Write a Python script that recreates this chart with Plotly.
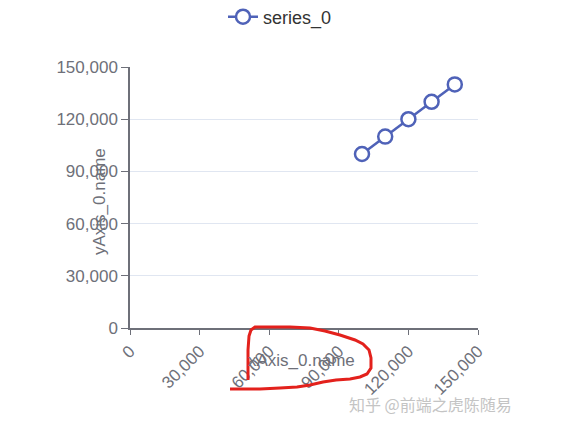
import plotly.graph_objects as go

# Data
series_name = "series_0"
x_values = [100000, 110000, 120000, 130000, 140000]
y_values = [100000, 110000, 120000, 130000, 140000]
tick_values = [0, 30000, 60000, 90000, 120000, 150000]
x_axis_name = "xAxis_0.name"
y_axis_name = "yAxis_0.name"
watermark = "知乎 @前端之虎陈随易"

W, H = 561, 427
OFF = 8  # page body margin
FW, FH = W - 2 * OFF, H - 2 * OFF
L, R, T, B = 130, 478, 67, 328  # plot area in page pixels


def px(x, y):
    return (x - L) / (R - L), (B - y) / (B - T)


AXIS_COLOR = "#6E7079"
LINE_COLOR = "#4f62b8"
FONT = "Liberation Sans, Arial, sans-serif"
FS = 17

fig = go.Figure()
fig.add_trace(go.Scatter(
    x=x_values, y=y_values, name=series_name, mode="lines+markers",
    line=dict(color=LINE_COLOR, width=2.5),
    marker=dict(symbol="circle", size=14, color="white",
                line=dict(color=LINE_COLOR, width=2.5)),
))

# red hand-drawn annotation stroke (page pixel points -> paper)
stroke_px = [(248, 380), (248, 350), (249, 336), (251, 330), (255, 327), (270, 327),
             (290, 327), (310, 328), (325, 331), (340, 335), (355, 340), (363, 344),
             (369, 350), (371, 358), (371, 368), (367, 374), (360, 377), (350, 379),
             (336, 380), (323, 382), (310, 385), (297, 387), (280, 388), (260, 389),
             (230, 389)]
pts = [px(a, b) for a, b in stroke_px]
path = "M " + " L ".join(f"{a:.4f},{b:.4f}" for a, b in pts)
fig.add_shape(type="path", path=path, xref="paper", yref="paper",
              line=dict(color="#e3211c", width=3), layer="above")

xn = px(301, 360)
yn = px(100, 202)
wm = px(430, 404)
fig.add_annotation(text=x_axis_name, x=xn[0], y=xn[1], xref="paper", yref="paper",
                   showarrow=False, xanchor="center", yanchor="middle",
                   font=dict(size=FS, color=AXIS_COLOR, family=FONT))
fig.add_annotation(text=y_axis_name, x=yn[0], y=yn[1], xref="paper", yref="paper",
                   showarrow=False, xanchor="center", yanchor="middle", textangle=-90,
                   font=dict(size=FS, color=AXIS_COLOR, family=FONT))
fig.add_annotation(text=watermark, x=wm[0], y=wm[1], xref="paper", yref="paper",
                   showarrow=False, xanchor="center", yanchor="middle",
                   font=dict(size=16, color="#c4c4c4", family="Noto Sans CJK SC"))

tick_text = [f"{v:,}" for v in tick_values]
fig.update_layout(
    width=FW, height=FH,
    margin=dict(l=L - OFF, r=FW - (R - OFF), t=T - OFF, b=FH - (B - OFF), pad=0,
                autoexpand=False),
    paper_bgcolor="white", plot_bgcolor="white",
    font=dict(family=FONT, color=AXIS_COLOR, size=FS),
    showlegend=True,
    legend=dict(orientation="h", x=(280 - L) / (R - L), xanchor="center",
                yref="container", y=1 - (17 - OFF) / FH, yanchor="middle",
                font=dict(size=18, color="#333333", family=FONT),
                bgcolor="rgba(0,0,0,0)"),
    xaxis=dict(range=[0, 150000], tickvals=tick_values, ticktext=tick_text,
               tickangle=-45, showgrid=False, zeroline=False,
               showline=True, linecolor=AXIS_COLOR, linewidth=1.5,
               ticks="outside", ticklen=5, tickcolor=AXIS_COLOR,
               tickfont=dict(size=FS, color=AXIS_COLOR)),
    yaxis=dict(range=[0, 150000], tickvals=tick_values, ticktext=tick_text,
               showgrid=True, gridcolor="#E0E6F1", gridwidth=1, zeroline=False,
               showline=True, linecolor=AXIS_COLOR, linewidth=1.5,
               ticks="outside", ticklen=7, tickcolor=AXIS_COLOR,
               tickfont=dict(size=FS, color=AXIS_COLOR)),
)

fig.write_html("out.html")
